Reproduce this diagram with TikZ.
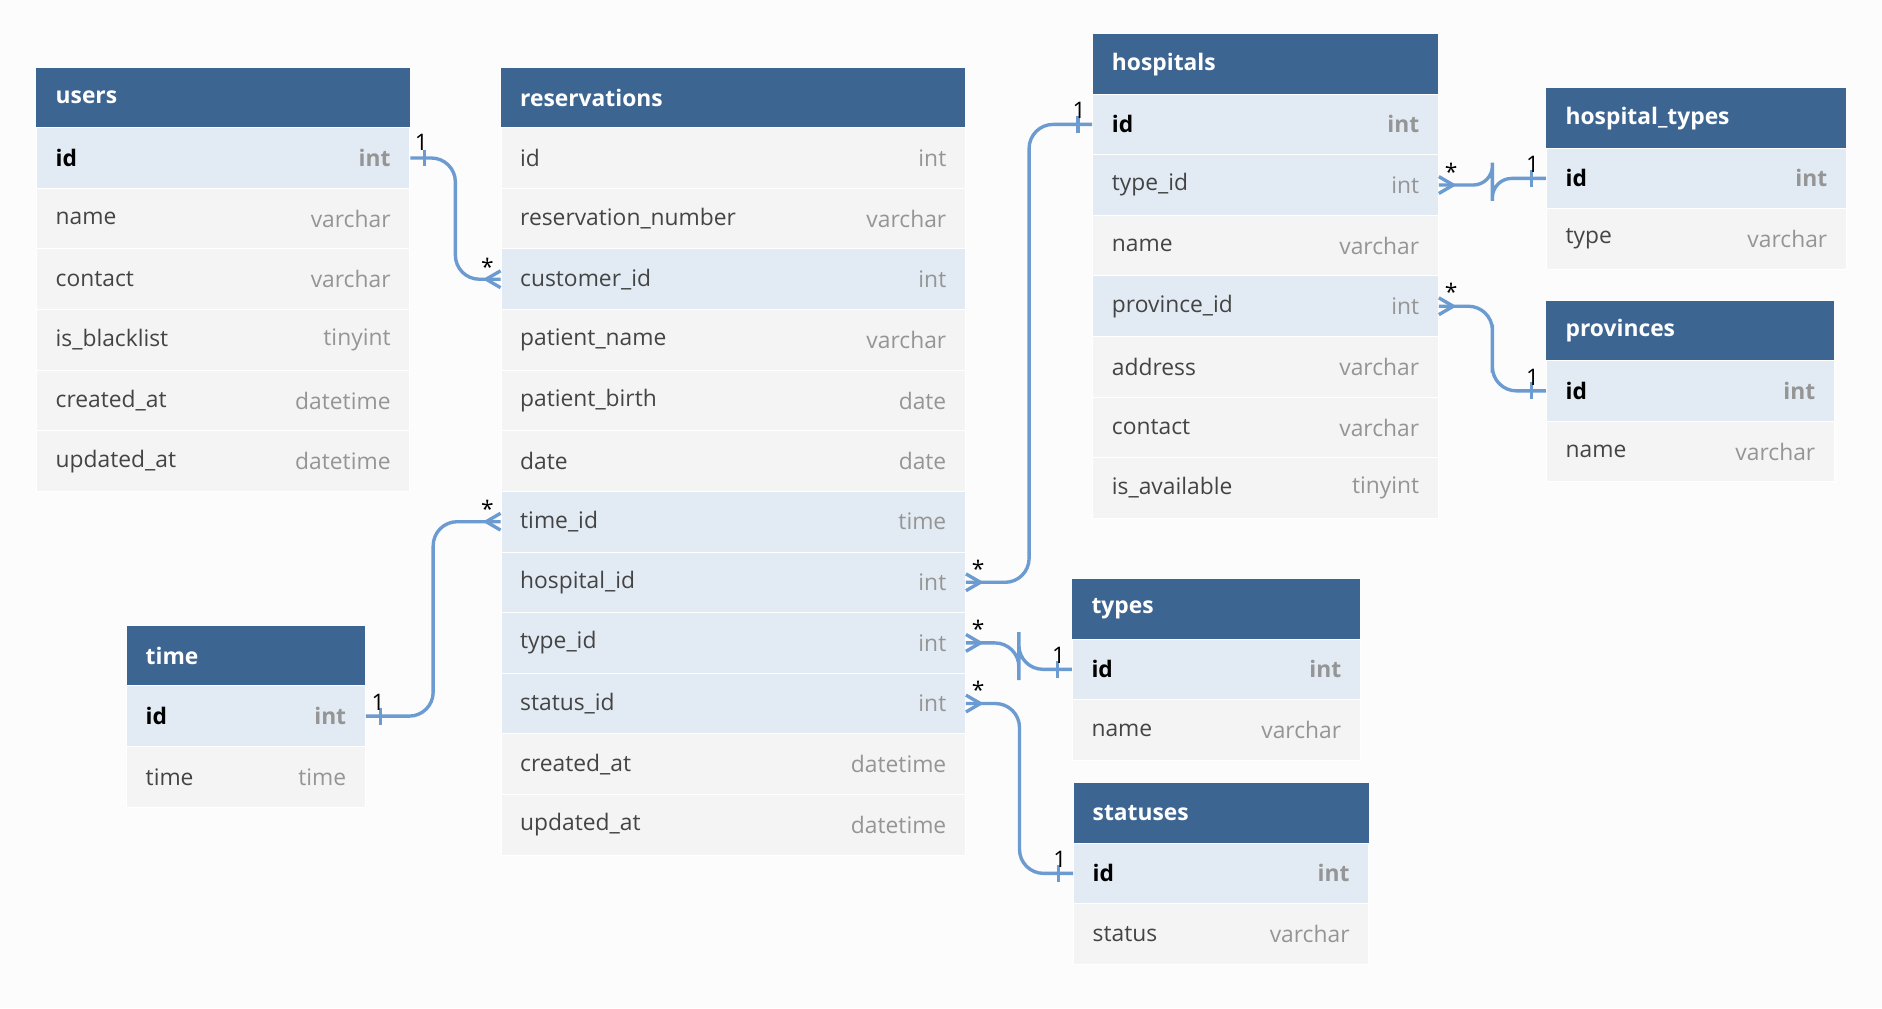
\documentclass[tikz,border=0pt]{standalone}
\usepackage{fontspec}
\setmainfont{Open Sans}
\usetikzlibrary{calc}
\definecolor{hdrc}{HTML}{3D6592}
\definecolor{hlc}{HTML}{E2EBF3}
\definecolor{nmc}{HTML}{F4F4F4}
\definecolor{bgc}{HTML}{FCFCFC}
\definecolor{conc}{HTML}{6B9BD1}
\definecolor{txc}{HTML}{444444}
\definecolor{tyc}{HTML}{959595}
\tikzset{
 hdr/.style={fill=hdrc,minimum height=25pt,inner sep=0pt},
 htext/.style={text=white,font=\fontsize{9.5}{11}\selectfont\bfseries,inner sep=0pt},
 pk/.style={fill=hlc,draw=white,line width=0.4pt,minimum height=25.25pt,inner sep=0pt},
 fk/.style={pk},
 nm/.style={fill=nmc,draw=white,line width=0.4pt,minimum height=25.25pt,inner sep=0pt},
 pkN/.style={text=black,font=\fontsize{9.5}{11}\selectfont\bfseries,inner sep=0pt},
 pkT/.style={text=tyc,font=\fontsize{9.5}{11}\selectfont\bfseries,inner sep=0pt},
 fkN/.style={text=txc,font=\fontsize{9.5}{11}\selectfont,inner sep=0pt},
 fkT/.style={text=tyc,font=\fontsize{9.5}{11}\selectfont,inner sep=0pt},
 nmN/.style={fkN}, nmT/.style={fkT},
 conn/.style={draw=conc,line width=1.4pt},
 lbl/.style={text=black,font=\fontsize{9.5}{11}\selectfont,inner sep=0pt}
}
\newcommand\tbl[6]{%
 \node[hdr,minimum width={#4*0.5pt},anchor=north west] (#1-h) at (#2,#3) {};
 \node[htext,anchor=west] at ($(#1-h.west)+(16,0)$) {#5};
 \foreach \n/\t/\s [count=\i] in {#6} {
  \node[\s,minimum width={#4*0.5pt},anchor=north west] (#1-\i) at (#2,{#3+50+50.5*(\i-1)}) {};
  \node[\s N,anchor=west] at ($(#1-\i.west)+(16,0)$) {\n};
  \node[\s T,anchor=east] at ($(#1-\i.east)+(-16,0)$) {\t};
 }}
\newcommand\manyW[1]{\draw[conn] ($(#1.west)+(-12,0)$) -- ($(#1.west)+(0,-7)$) ($(#1.west)+(-12,0)$) -- ($(#1.west)+(0,7)$);}
\newcommand\manyE[1]{\draw[conn] ($(#1.east)+(12,0)$) -- ($(#1.east)+(0,-7)$) ($(#1.east)+(12,0)$) -- ($(#1.east)+(0,7)$);}
\newcommand\oneW[1]{\draw[conn] ($(#1.west)+(-12,-7)$) -- ++(0,14);}
\newcommand\oneE[1]{\draw[conn] ($(#1.east)+(12,-7)$) -- ++(0,14);}
\begin{document}
\begin{tikzpicture}[x=0.5pt,y=-0.5pt]
\fill[bgc] (0,0) rectangle (1568,840);
\useasboundingbox (0,0) rectangle (1568,840);
\tbl{users}{30}{56}{311}{users}{id/int/pk,name/varchar/nm,contact/varchar/nm,is\_blacklist/tinyint/nm,created\_at/datetime/nm,updated\_at/datetime/nm}
\tbl{res}{417}{56}{387}{reservations}{id/int/nm,reservation\_number/varchar/nm,customer\_id/int/fk,patient\_name/varchar/nm,patient\_birth/date/nm,date/date/nm,time\_id/time/fk,hospital\_id/int/fk,type\_id/int/fk,status\_id/int/fk,created\_at/datetime/nm,updated\_at/datetime/nm}
\tbl{hosp}{910}{28}{288}{hospitals}{id/int/pk,type\_id/int/fk,name/varchar/nm,province\_id/int/fk,address/varchar/nm,contact/varchar/nm,is\_available/tinyint/nm}
\tbl{ht}{1288}{73}{250}{hospital\_types}{id/int/pk,type/varchar/nm}
\tbl{prov}{1288}{250}{240}{provinces}{id/int/pk,name/varchar/nm}
\tbl{time}{105}{521}{199}{time}{id/int/pk,time/time/nm}
\tbl{types}{893}{482}{240}{types}{id/int/pk,name/varchar/nm}
\tbl{stat}{894}{652}{246}{statuses}{id/int/pk,status/varchar/nm}
% connectors
\draw[conn,rounded corners=10] (users-1.east) -| ($(users-1.east)!.5!(res-3.west)$) |- (res-3.west);
\oneE{users-1}\manyW{res-3}
\node[lbl] at (351,119) {1}; \node[lbl] at (406,222) {*};
\draw[conn,rounded corners=10] (time-1.east) -| ($(time-1.east)!.5!(res-7.west)$) |- (res-7.west);
\oneE{time-1}\manyW{res-7}
\node[lbl] at (315,585) {1}; \node[lbl] at (406,424) {*};
\draw[conn,rounded corners=10] (res-8.east) -| ($(res-8.east)!.5!(hosp-1.west)$) |- (hosp-1.west);
\manyE{res-8}\oneW{hosp-1}
\node[lbl] at (815,474) {*}; \node[lbl] at (899,92) {1};
\draw[conn,rounded corners=10] (res-9.east) -| ($(res-9.east)!.5!(types-1.west)$) |- (types-1.west);
\manyE{res-9}\oneW{types-1}
\node[lbl] at (815,524) {*}; \node[lbl] at (882,546) {1};
\draw[conn,rounded corners=10] (res-10.east) -| ($(res-10.east)!.5!(stat-1.west)$) |- (stat-1.west);
\manyE{res-10}\oneW{stat-1}
\node[lbl] at (815,575) {*}; \node[lbl] at (883,716) {1};
\draw[conn,rounded corners=8] (hosp-2.east) -| ($(hosp-2.east)!.5!(ht-1.west)$) |- (ht-1.west);
\manyE{hosp-2}\oneW{ht-1}
\node[lbl] at (1209,143) {*}; \node[lbl] at (1277,137) {1};
\draw[conn,rounded corners=10] (hosp-4.east) -| ($(hosp-4.east)!.5!(prov-1.west)$) |- (prov-1.west);
\manyE{hosp-4}\oneW{prov-1}
\node[lbl] at (1209,243) {*}; \node[lbl] at (1277,314) {1};
\end{tikzpicture}
\end{document}
